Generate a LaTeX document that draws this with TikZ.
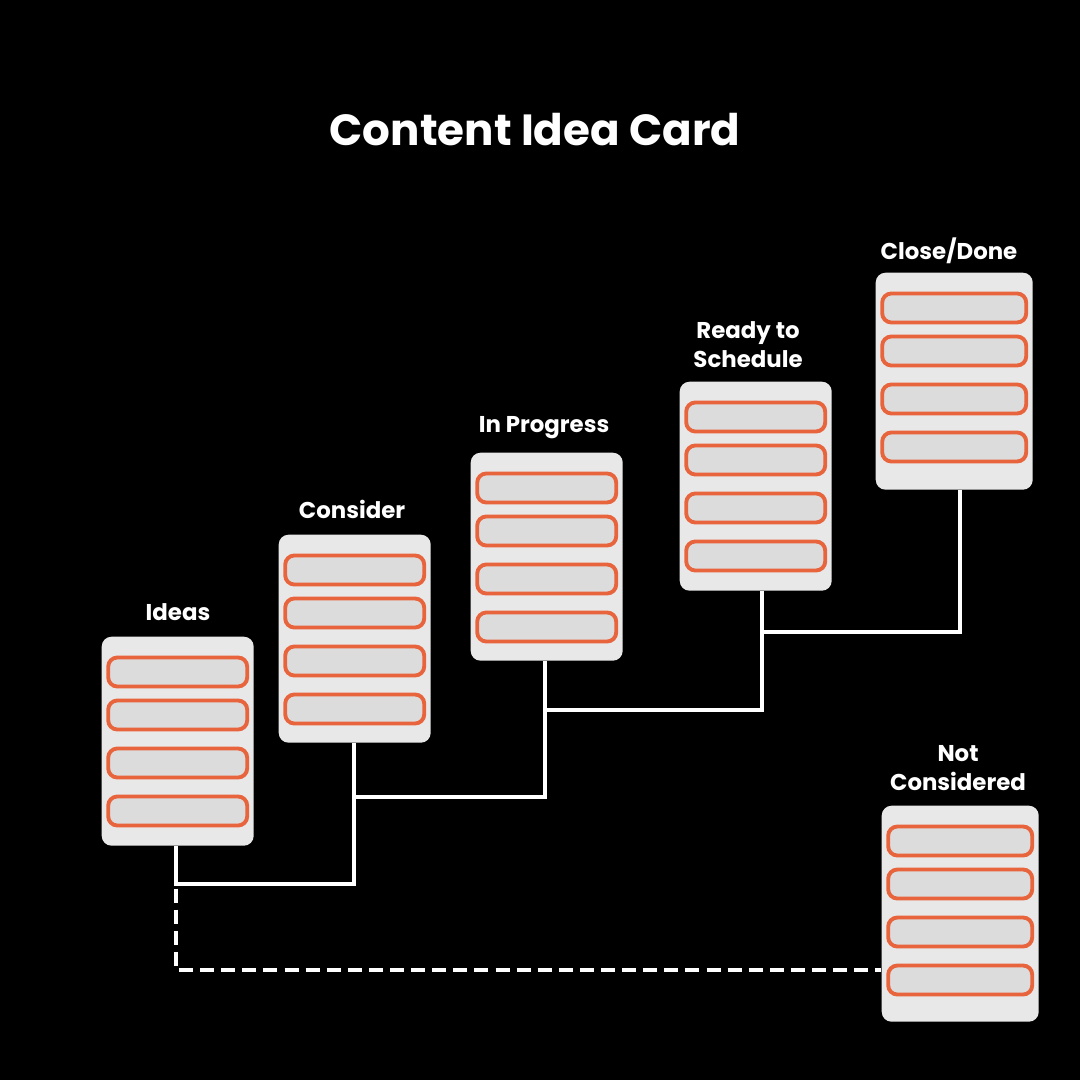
\documentclass[tikz,border=0pt]{standalone}
\usepackage{fontspec}
\setmainfont{Poppins}
\usepackage{tikz}
\definecolor{cardgray}{HTML}{E8E8E8}
\definecolor{slotgray}{HTML}{DCDCDC}
\definecolor{slotline}{HTML}{E8643C}

\newcommand{\card}[5]{% name, x, y, width, height
  \node[card_node, minimum width=#4*0.01cm, minimum height=#5*0.01cm, anchor=north west] (#1) at (#2,#3) {};
  \foreach \d in {36,79,127,175}
    \node[slot_node, minimum width=#4*0.01cm-0.13cm] at ([yshift=-\d*0.01cm]#1.north) {};
}

\begin{document}
\begin{tikzpicture}[x=0.01cm,y=-0.01cm,
  card_node/.style={rectangle,rounded corners=2.8pt,fill=cardgray,inner sep=0pt},
  slot_node/.style={rectangle,rounded corners=2.6pt,fill=slotgray,draw=slotline,line width=1.1pt,inner sep=0pt,minimum height=0.29cm},
  label_node/.style={text=white,font=\bfseries\fontsize{6.5}{8.3}\selectfont,align=center},
  link/.style={white,line width=0.9pt}]

	\fill[black] (0,0) rectangle (1080,1080);
	\node[text=white,font=\bfseries\fontsize{12.4}{15}\selectfont] (title) at (535,130) {Content Idea Card};

	\card{ideas}{101}{636}{152}{209}
	\card{consider}{278}{534}{152}{208}
	\card{progress}{470}{452}{152}{208}
	\card{ready}{679}{381}{152}{209}
	\card{done}{875}{272}{157}{217}
	\card{notcons}{881}{805}{157}{216}

	\node[label_node] (l1) at (178,612) {Ideas};
	\node[label_node] (l2) at (352,509) {Consider};
	\node[label_node] (l3) at (544,428) {In Progress};
	\node[label_node] (l4) at (748,345) {Ready to\\Schedule};
	\node[label_node] (l5) at (949,251) {Close/Done};
	\node[label_node] (l6) at (958,768) {Not\\Considered};

	\coordinate (c1) at (176,884);
	\coordinate (c2) at (354,797);
	\coordinate (c3) at (545,710);
	\coordinate (c4) at (762,632);
	\coordinate (c5) at (960,632);

	\draw[link] (ideas.south -| c1) -- (c1) -| (consider.south -| c2);
	\draw[link] (consider.south -| c2) -- (c2) -| (progress.south -| c3);
	\draw[link] (c3) -| (ready.south -| c4);
	\draw[link] (c4) -- (c5) -- (done.south -| c5);
	\draw[link,dashed,dash pattern=on 4pt off 2pt] (ideas.south -| c1) |- (notcons.west |- 0,970);

\end{tikzpicture}
\end{document}
